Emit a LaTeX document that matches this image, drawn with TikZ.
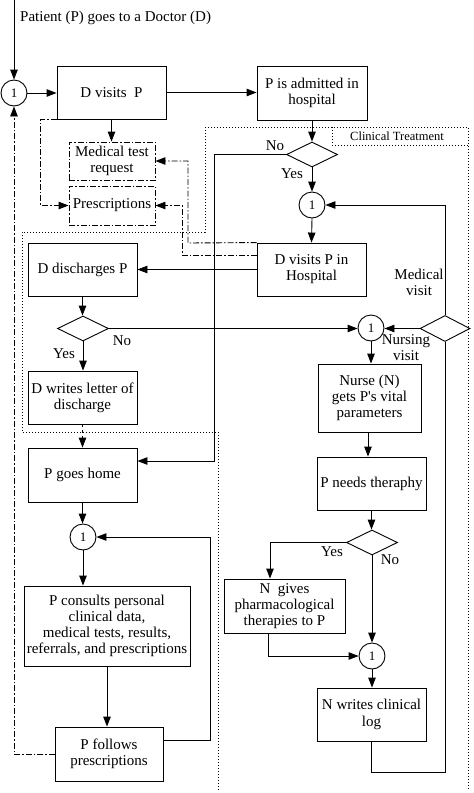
\documentclass[tikz,border=0pt]{standalone}
\usepackage{fontspec}
\setmainfont{Liberation Serif}
\usetikzlibrary{arrows.meta,shapes.geometric}
\begin{document}
\begin{tikzpicture}[x=1pt,y=-1pt,
  txt/.style={font=\fontsize{15}{16.2}\selectfont, align=center, inner sep=0pt},
  box/.style={txt, draw, line width=0.9pt},
  dbox/.style={txt, draw, line width=0.9pt, dash pattern=on 6pt off 2pt on 1.5pt off 2pt},
  conn/.style={circle, draw, line width=0.9pt, minimum size=26pt, inner sep=0pt, font=\fontsize{13}{14}\selectfont},
  dec/.style={diamond, draw, line width=0.9pt, inner sep=0pt, minimum width=51pt, minimum height=25pt},
  arr/.style={-{Triangle[length=10pt,width=7.5pt]}, line width=0.9pt},
  ln/.style={line width=0.9pt},
  ddot/.style={line width=0.9pt, dash pattern=on 6pt off 2pt on 1.5pt off 2pt},
  dotl/.style={line width=0.9pt, dash pattern=on 0.9pt off 2.1pt},
  lab/.style={txt}
]
\useasboundingbox (0,0) rectangle (474,793);

% dotted region boundaries
\draw[dotl] (205,127) -- (468,127) -- (468,790);
\draw[dotl] (205,127) -- (205,232) -- (22,232) -- (22,432) -- (218,432) -- (218,790);
\draw[dotl] (332,127) -- (332,145) -- (468,145);
\node[txt, font=\fontsize{12.5}{14}\selectfont] (ct) at (397,136) {Clinical Treatment};

% nodes
\coordinate (start) at (14,0);
\node[conn] (c1) at (14,93) {1};
\node[box, minimum width=109pt, minimum height=53pt] (dvp) at (111.5,92.5) {D visits\ \ P};
\node[box, minimum width=110pt, minimum height=54pt] (adm) at (312,93) {P is admitted in\\hospital};
\node[dbox, minimum width=86pt, minimum height=38pt] (mtr) at (112,161) {Medical test\\request};
\node[dbox, minimum width=86pt, minimum height=39pt] (pre) at (112,205.5) {Prescriptions};
\node[dec] (d1) at (312,154.5) {};
\node[conn] (c2) at (312,205) {1};
\node[box, minimum width=109pt, minimum height=53pt] (hosp) at (311.5,269.5) {D visits P in\\Hospital};
\node[box, minimum width=109pt, minimum height=53pt] (dis) at (82.5,269.5) {D discharges P};
\node[dec] (d2) at (83,328.5) {};
\node[conn] (c3) at (371,328) {1};
\node[dec, minimum width=50pt, minimum height=26pt] (d3) at (445,328.5) {};
\node[box, minimum width=109pt, minimum height=53pt] (lett) at (82.5,397.5) {D writes letter of\\discharge};
\node[box, minimum width=109pt, minimum height=54pt] (home) at (82.5,475) {P goes home};
\node[box, minimum width=103pt, minimum height=68pt] (nurse) at (369.5,398) {Nurse (N)\\gets P\textquotesingle s vital\\parameters};
\node[box, minimum width=109pt, minimum height=53pt] (need) at (371.5,483.5) {P needs theraphy};
\node[dec] (d4) at (372,542.5) {};
\node[box, minimum width=121pt, minimum height=54pt] (gives) at (284.5,606) {N\ \ gives\\pharmacological\\therapies to P};
\node[conn] (c4) at (372,656) {1};
\node[box, minimum width=109pt, minimum height=53pt] (clog) at (371.5,714.5) {N writes clinical\\log};
\node[conn] (c5) at (83,537) {1};
\node[box, minimum width=166pt, minimum height=80pt] (cons) at (107,626) {P consults personal\\clinical data,\\medical tests, results,\\referrals, and prescriptions};
\node[box, minimum width=108pt, minimum height=54pt] (fol) at (109,754) {P follows\\prescriptions};

% labels
\node[lab, anchor=west] (tpat) at (20,18) {Patient (P) goes to a Doctor (D)};
\node[lab] (ln1) at (275,146) {No};
\node[lab] (ly1) at (292,174) {Yes};
\node[lab] (ln2) at (122,341) {No};
\node[lab] (ly2) at (64,354) {Yes};
\node[lab] (lmv) at (419,282) {Medical\\visit};
\node[lab] (lnv) at (406,348) {Nursing\\visit};
\node[lab] (ly4) at (332,552) {Yes};
\node[lab] (ln4) at (390,560) {No};

% connectors
\draw[arr] (start) -- (c1.north);
\draw[arr] (c1.east) -- (c1.east -| dvp.west);
\draw[arr] (dvp.east) -- (dvp.east -| adm.west);
\draw[arr] (dvp.south) -- (dvp.south |- mtr.north);
\draw[arr, ddot] (dvp.south west) -- ++(-16,0) |- (pre.west);
\draw[arr, ddot] (hosp.north west) -- (188,243) |- (mtr.east);
\draw[arr, ddot] ([yshift=14.5pt]hosp.west) -- (182,255) |- (pre.east);
\draw[arr] (adm.south) -- (d1.north);
\draw[arr] (d1.south) -- (c2.north);
\draw[arr] (d1.west) -| (214,461) -- ([yshift=14pt]home.east);
\draw[arr] (c2.south) -- (hosp.north);
\draw[arr] (hosp.west) -- (dis.east);
\draw[arr] (dis.south) -- (dis.south |- d2.north);
\draw[arr] (d2.east) -- (d2.east -| c3.west);
\draw[arr] (d2.south) -- (d2.south |- lett.north);
\draw[arr, dashed] (lett.south) -- (home.north);
\draw[arr] (d3.west) -- (d3.west -| c3.east);
\draw[arr] (d3.north) |- (c2.east);
\draw[ln] (clog.south) -- ++(0,31) -| (d3.south);
\draw[arr] (c3.south) -- (c3.south |- nurse.north);
\draw[arr] ([xshift=-1.5pt]nurse.south) -- ([xshift=-1.5pt]nurse.south |- need.north);
\draw[arr] (need.south) -- (need.south |- d4.north);
\draw[arr] (d4.west) -| ([xshift=-14.5pt]gives.north);
\draw[arr] (d4.south) -- (c4.north);
\draw[arr] ([xshift=-16.5pt]gives.south) |- (c4.west);
\draw[arr] (c4.south) -- (c4.south |- clog.north);
\draw[arr] (home.south) -- (home.south |- c5.north);
\draw[arr] (c5.south) -- (c5.south |- cons.north);
\draw[arr] (cons.south) -- (cons.south |- fol.north);
\draw[arr] ([yshift=14pt]fol.east) -- (210,740) |- (c5.east);
\draw[arr, ddot] (fol.west) -| (c1.south);
\end{tikzpicture}
\end{document}
